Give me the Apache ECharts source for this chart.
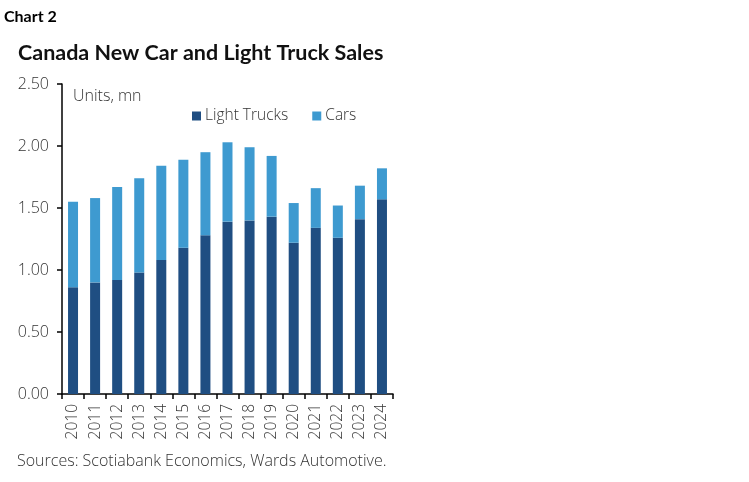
<!DOCTYPE html>
<html>
<head>
<meta charset="utf-8">
<script src="https://cdn.jsdelivr.net/npm/echarts@6/dist/echarts.min.js"></script>
<style>
  html, body { margin: 0; padding: 0; background: #fff; }
  #chart { width: 749px; height: 482px; }
</style>
</head>
<body>
<div id="chart"></div>
<script>
const years = ['2010', '2011', '2012', '2013', '2014', '2015', '2016', '2017',
  '2018', '2019', '2020', '2021', '2022', '2023', '2024'];
const lightTrucks = [0.86, 0.90, 0.92, 0.98, 1.08, 1.18, 1.28, 1.39, 1.40, 1.43, 1.22, 1.34, 1.26, 1.41, 1.57];
const cars = [0.69, 0.68, 0.75, 0.76, 0.76, 0.71, 0.67, 0.64, 0.59, 0.49, 0.32, 0.32, 0.26, 0.27, 0.25];
const yTicks = [0, 0.5, 1, 1.5, 2, 2.5];

const chart = echarts.init(document.getElementById('chart'));

chart.setOption({
  animation: false,
  textStyle: { fontFamily: 'Open Sans' },
  graphic: [
    { type: 'text', left: 4, top: 9,
      style: { text: 'Chart 2', font: 'bold 16px Lato', fill: '#000' } },
    { type: 'text', left: 18, top: 42,
      style: { text: 'Canada New Car and Light Truck Sales', font: 'bold 21.5px Lato', fill: '#111' } },
    { type: 'text', left: 73, top: 88,
      style: { text: 'Units, mn', font: '300 16px "Open Sans"', fill: '#333' } },
    { type: 'text', left: 17, top: 453,
      style: { text: 'Sources: Scotiabank Economics, Wards Automotive.', font: '300 16px "Open Sans"', fill: '#333' } }
  ],
  legend: {
    left: 187, top: 103,
    itemWidth: 9, itemHeight: 9, itemGap: 24,
    icon: 'rect',
    textStyle: { fontSize: 15.5, fontWeight: 300, color: '#333', fontFamily: 'Open Sans', padding: [0, 0, 0, -1] },
    data: ['Light Trucks', 'Cars']
  },
  grid: { left: 62, top: 84, width: 331, height: 310 },
  xAxis: {
    type: 'category',
    data: years,
    axisLine: { lineStyle: { color: '#000', width: 1.5 } },
    axisTick: { show: true, alignWithLabel: false, length: 5, lineStyle: { color: '#000', width: 1.5 } },
    axisLabel: { rotate: 90, color: '#333', fontSize: 15.5, fontWeight: 300, margin: 10, interval: 0 }
  },
  yAxis: {
    type: 'value',
    min: 0, max: 2.5, interval: 0.5,
    axisLine: { show: true, lineStyle: { color: '#000', width: 1.5 } },
    axisTick: { show: true, length: 5, lineStyle: { color: '#000', width: 1.5 } },
    splitLine: { show: false },
    axisLabel: {
      color: '#333', fontSize: 16, fontWeight: 300, margin: 13,
      formatter: v => yTicks.includes(v) ? v.toFixed(2) : ''
    }
  },
  series: [
    {
      name: 'Light Trucks', type: 'bar', stack: 'total', barWidth: 10,
      itemStyle: { color: '#1F4E82' },
      data: lightTrucks
    },
    {
      name: 'Cars', type: 'bar', stack: 'total', barWidth: 10,
      itemStyle: { color: '#3E9AD0' },
      data: cars
    }
  ]
});
</script>
</body>
</html>
